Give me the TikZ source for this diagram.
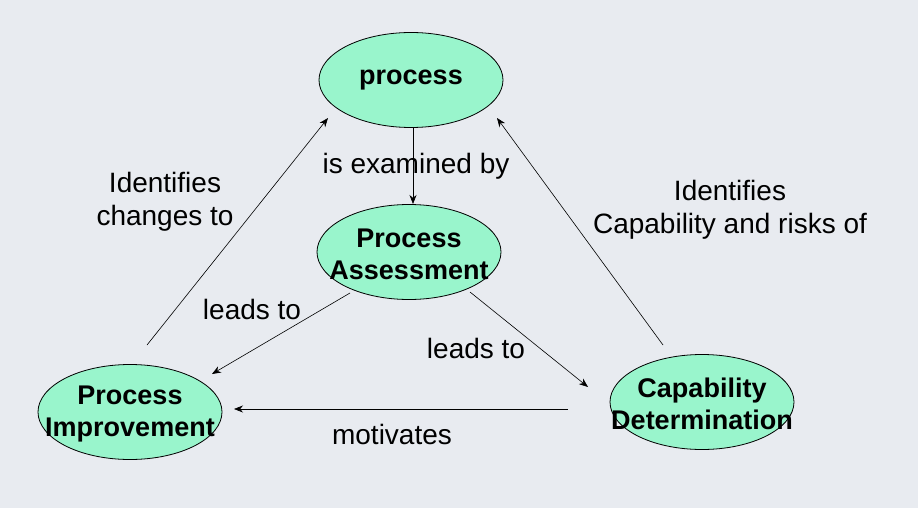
\documentclass[tikz,border=0pt]{standalone}
\usepackage{fontspec}
\setmainfont{Liberation Sans}
\usetikzlibrary{shapes.geometric,arrows.meta}
\definecolor{bg}{HTML}{E8EBF0}
\definecolor{nf}{HTML}{99F5CC}
\begin{document}
\begin{tikzpicture}[x=1pt,y=-1pt,
  ell/.style={ellipse,draw=black,line width=0.8pt,fill=nf,minimum width=184pt,minimum height=95pt,inner sep=0pt},
  et/.style={align=center,inner sep=0pt,font=\fontsize{27}{32}\selectfont\bfseries},
  lab/.style={align=center,font=\fontsize{28}{33}\selectfont},
  arr/.style={-{Stealth[length=9pt,width=7pt]},line width=0.6pt}]
\fill[bg] (0,0) rectangle (918,508);
\useasboundingbox (0,0) rectangle (918,508);
\node[ell] (p) at (411,80) {};
\node[ell] (a) at (409,252) {};
\node[ell] (i) at (130,412) {};
\node[ell] (c) at (702,402) {};
\node[et] (pt) at (411,80) {process};
\node[et] (at) at (409,254) {Process\\Assessment};
\node[et] (it) at (130,414) {Process\\Improvement};
\node[et] (ct) at (702,404) {Capability\\Determination};
\coordinate (p1) at (413,128); \coordinate (a1) at (413,204);
\coordinate (i1) at (147,345); \coordinate (p2) at (328,118);
\coordinate (c1) at (663,345); \coordinate (p3) at (497,118);
\coordinate (a2) at (350,293); \coordinate (i2) at (212,374);
\coordinate (a3) at (470,292); \coordinate (c2) at (588,387);
\coordinate (c3) at (568,409); \coordinate (i3) at (234,409);
\draw[arr] (p1) -- (a1);
\draw[arr] (i1) -- (p2);
\draw[arr] (c1) -- (p3);
\draw[arr] (a2) -- (i2);
\draw[arr] (a3) -- (c2);
\draw[arr] (c3) -- (i3);
\node[lab] (l1) at (416,166) {is examined by};
\node[lab] (l2) at (165,202) {Identifies\\changes to};
\node[lab] (l3) at (730,210) {Identifies\\Capability and risks of};
\node[lab] (l4) at (252,309) {leads to};
\node[lab] (l5) at (476,348) {leads to};
\node[lab] (l6) at (392,434) {motivates};
\end{tikzpicture}
\end{document}
